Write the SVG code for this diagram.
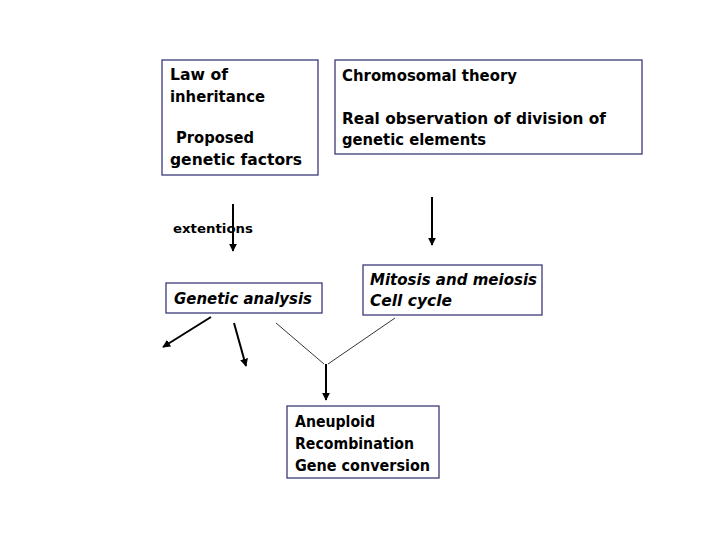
<svg xmlns="http://www.w3.org/2000/svg" width="720" height="540" viewBox="0 0 720 540">
<style>
.box{fill:#fff;stroke:#3a3a78;stroke-width:1.3}
.t{font-family:"DejaVu Sans","Liberation Sans",sans-serif;font-size:15px;font-weight:bold;fill:#000}
.i{font-style:italic}
.a{stroke:#000;stroke-width:2;fill:none}
.th{stroke:#000;stroke-width:0.8;fill:none}
</style>
<defs>
<marker id="ah" viewBox="0 0 10 10" refX="9" refY="5" markerWidth="4" markerHeight="4" orient="auto" markerUnits="strokeWidth">
<path d="M0,0 L10,5 L0,10 z" fill="#000"/>
</marker>
</defs>
<rect width="720" height="540" fill="#fff"/>
<g id="connectors">
<line class="a" x1="233" y1="204" x2="233" y2="251" marker-end="url(#ah)"/>
<line class="a" x1="432" y1="197" x2="432" y2="245" marker-end="url(#ah)"/>
<line class="a" x1="211" y1="317" x2="163" y2="347" marker-end="url(#ah)"/>
<line class="a" x1="234" y1="323" x2="246" y2="366" marker-end="url(#ah)"/>
<line class="th" x1="276" y1="323" x2="324" y2="364"/>
<line class="th" x1="395" y1="318" x2="328" y2="364"/>
<line class="a" x1="326" y1="364" x2="326" y2="400" marker-end="url(#ah)"/>
</g>
<g id="law">
<rect class="box" x="162" y="60" width="156" height="115"/>
<text class="t" x="170" y="80" textLength="58" lengthAdjust="spacingAndGlyphs">Law of</text>
<text class="t" x="170" y="102" textLength="95" lengthAdjust="spacingAndGlyphs">inheritance</text>
<text class="t" x="176" y="143" textLength="78" lengthAdjust="spacingAndGlyphs">Proposed</text>
<text class="t" x="170" y="165" textLength="132" lengthAdjust="spacingAndGlyphs">genetic factors</text>
</g>
<g id="chromosomal">
<rect class="box" x="335" y="60" width="307" height="94"/>
<text class="t" x="342" y="81" textLength="175" lengthAdjust="spacingAndGlyphs">Chromosomal theory</text>
<text class="t" x="342" y="124" textLength="264" lengthAdjust="spacingAndGlyphs">Real observation of division of</text>
<text class="t" x="342" y="145" textLength="144" lengthAdjust="spacingAndGlyphs">genetic elements</text>
</g>
<g id="extentions">
<text class="t" x="173" y="233" style="font-size:13px" textLength="80" lengthAdjust="spacingAndGlyphs">extentions</text>
</g>
<g id="genetic">
<rect class="box" x="166" y="283" width="156" height="30"/>
<text class="t i" x="174" y="304" textLength="138" lengthAdjust="spacingAndGlyphs">Genetic analysis</text>
</g>
<g id="mitosis">
<rect class="box" x="363" y="265" width="179" height="50"/>
<text class="t i" x="370" y="285" textLength="167" lengthAdjust="spacingAndGlyphs">Mitosis and meiosis</text>
<text class="t i" x="370" y="306" textLength="82" lengthAdjust="spacingAndGlyphs">Cell cycle</text>
</g>
<g id="aneuploid">
<rect class="box" x="287" y="406" width="152" height="72"/>
<text class="t" x="295" y="427" textLength="80" lengthAdjust="spacingAndGlyphs">Aneuploid</text>
<text class="t" x="295" y="449" textLength="119" lengthAdjust="spacingAndGlyphs">Recombination</text>
<text class="t" x="295" y="471" textLength="135" lengthAdjust="spacingAndGlyphs">Gene conversion</text>
</g>
</svg>
